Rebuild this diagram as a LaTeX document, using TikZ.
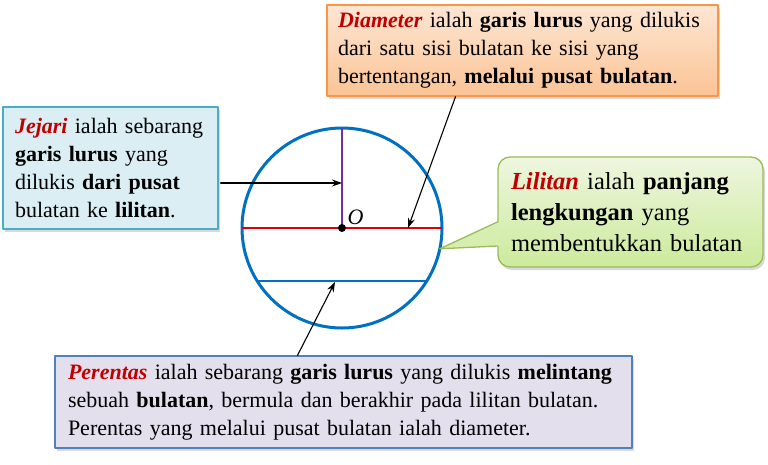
\documentclass[tikz,border=0pt]{standalone}
\usepackage{fontspec}
\setmainfont{Liberation Serif}
\usetikzlibrary{arrows.meta,shadows,calc}
\definecolor{merahistilah}{HTML}{C00000}
\definecolor{birubulatan}{HTML}{0070C0}
\definecolor{ungujejari}{HTML}{7030A0}
\definecolor{merahdiameter}{HTML}{E00000}
\definecolor{kotakbiru}{HTML}{DAEEF3}
\definecolor{garisbiru}{HTML}{4BACC6}
\definecolor{oren1}{HTML}{FDE6D3}
\definecolor{oren2}{HTML}{FBC495}
\definecolor{garisoren}{HTML}{F79646}
\definecolor{hijau1}{HTML}{EEF6DF}
\definecolor{hijau2}{HTML}{CCEA9C}
\definecolor{garishijau}{HTML}{9BBB59}
\definecolor{ungu1}{HTML}{E4DFEC}
\definecolor{garisungu}{HTML}{4F81BD}
\newcommand{\istilah}[1]{\textcolor{merahistilah}{\textbf{\textit{#1}}}}
\tikzset{
	kotak/.style={draw, line width=1.3pt, align=left, inner xsep=12pt, inner ysep=4pt,
		drop shadow={shadow xshift=2pt, shadow yshift=-3pt, opacity=0.3}},
	anak/.style={-{Stealth[length=10pt,width=7pt]}, line width=1.1pt}
}
\begin{document}
\begin{tikzpicture}[x=1pt, y=-1pt, font=\fontsize{22}{28}\selectfont, line join=round, line cap=round]
				\useasboundingbox (0,0) rectangle (768,464);
				% bulatan
				\node[circle, draw=birubulatan, line width=3pt, minimum size=200pt, outer sep=0pt, inner sep=0pt] (bulat) at (342,228) {};
				\draw[merahdiameter, line width=2.5pt, line cap=butt] (bulat.west)--(bulat.east);
				\draw[birubulatan, line width=2.5pt, line cap=butt] (bulat.-148)--(bulat.-32);
				\draw[ungujejari, line width=2.5pt, line cap=butt] (bulat.north)--(bulat.center);
				\coordinate[label={[label distance=0pt, xshift=2pt, font=\fontsize{22}{22}\selectfont]above right:\textit{O}}] (O) at (bulat.center);
				\fill (O) circle (4pt);
				% kotak keterangan
				\node[kotak, fill=kotakbiru, draw=garisbiru, text width=191pt, minimum height=122pt] (jejari) at (110.5,168)
					{\istilah{Jejari} ialah sebarang\\ \textbf{garis lurus} yang\\ dilukis \textbf{dari pusat}\\ bulatan ke \textbf{lilitan}.};
				\node[kotak, top color=oren1, bottom color=oren2, draw=garisoren, inner xsep=11pt, text width=369pt, minimum height=91pt] (diameter) at (522.5,50.5)
					{\istilah{Diameter} ialah \textbf{garis lurus} yang dilukis\\ dari satu sisi bulatan ke sisi yang\\ bertentangan, \textbf{melalui pusat bulatan}.};
				\node[kotak, top color=hijau1, bottom color=hijau2, draw=garishijau, rounded corners=12pt, inner xsep=13pt, text width=239pt, minimum height=110pt,
					font=\fontsize{24.5}{31}\selectfont] (lilitan) at (630.5,212)
					{\istilah{Lilitan} ialah \textbf{panjang}\\ \textbf{lengkungan} yang\\ membentukkan bulatan};
				\node[kotak, fill=ungu1, draw=garisungu, inner xsep=13pt, text width=551pt, minimum height=92pt] (perentas) at (343.5,402)
					{\istilah{Perentas} ialah sebarang \textbf{garis lurus} yang dilukis \textbf{melintang}\\ sebuah \textbf{bulatan}, bermula dan berakhir pada lilitan bulatan.\\ Perentas yang melalui pusat bulatan ialah diameter.};
				% ekor lilitan
				\coordinate (hujung) at (bulat.-12);
				\fill[hijau2!70!hijau1] ($(lilitan.west)+(2,10)$)--(hujung)--($(lilitan.west)+(2,34)$)--cycle;
				\draw[garishijau, line width=1.3pt] ($(lilitan.west)+(0,10)$)--(hujung)--($(lilitan.west)+(0,34)$);
				% anak panah
				\coordinate (tj) at (342,183);
				\coordinate (td) at (408,228);
				\coordinate (tp) at (335,282);
				\draw[anak] ([xshift=2pt]jejari.east |- tj)--(tj);
				\draw[anak] ([xshift=-67pt]diameter.south)--(td);
				\draw[anak] ([xshift=-46pt]perentas.north)--(tp);
			\end{tikzpicture}
\end{document}
